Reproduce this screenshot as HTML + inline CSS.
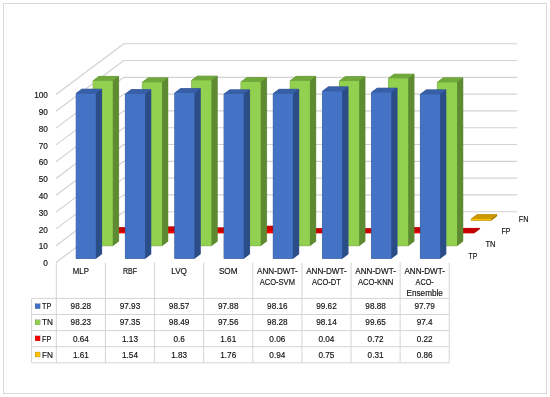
<!DOCTYPE html>
<html><head><meta charset="utf-8"><title>Chart</title>
<style>html,body{margin:0;padding:0;background:#fff;overflow:hidden}svg{display:block}</style></head>
<body>
<svg width="550" height="397" viewBox="0 0 550 397">
<rect x="0" y="0" width="550" height="397" fill="#fff"/>
<rect x="3.5" y="3.5" width="543" height="390" fill="none" stroke="#D9D9D9" stroke-width="1"/>
<polyline points="56.00,94.50 123.80,43.70 517.16,43.70" fill="none" stroke="#D2D2D2" stroke-width="1.15" stroke-linejoin="round"/>
<polyline points="56.00,111.30 123.80,60.50 517.16,60.50" fill="none" stroke="#D2D2D2" stroke-width="1.15" stroke-linejoin="round"/>
<polyline points="56.00,128.10 123.80,77.30 517.16,77.30" fill="none" stroke="#D2D2D2" stroke-width="1.15" stroke-linejoin="round"/>
<polyline points="56.00,144.90 123.80,94.10 517.16,94.10" fill="none" stroke="#D2D2D2" stroke-width="1.15" stroke-linejoin="round"/>
<polyline points="56.00,161.70 123.80,110.90 517.16,110.90" fill="none" stroke="#D2D2D2" stroke-width="1.15" stroke-linejoin="round"/>
<polyline points="56.00,178.50 123.80,127.70 517.16,127.70" fill="none" stroke="#D2D2D2" stroke-width="1.15" stroke-linejoin="round"/>
<polyline points="56.00,195.30 123.80,144.50 517.16,144.50" fill="none" stroke="#D2D2D2" stroke-width="1.15" stroke-linejoin="round"/>
<polyline points="56.00,212.10 123.80,161.30 517.16,161.30" fill="none" stroke="#D2D2D2" stroke-width="1.15" stroke-linejoin="round"/>
<polyline points="56.00,228.90 123.80,178.10 517.16,178.10" fill="none" stroke="#D2D2D2" stroke-width="1.15" stroke-linejoin="round"/>
<polyline points="56.00,245.70 123.80,194.90 517.16,194.90" fill="none" stroke="#D2D2D2" stroke-width="1.15" stroke-linejoin="round"/>
<polyline points="56.00,262.50 123.80,211.70 517.16,211.70" fill="none" stroke="#D2D2D2" stroke-width="1.15" stroke-linejoin="round"/>
<polygon points="126.89,220.39 146.69,220.39 152.59,215.97 152.59,213.26 132.79,213.26 126.89,217.68" fill="#A67C00" stroke="#A67C00" stroke-width="0.5" stroke-linejoin="round"/>
<polygon points="146.69,220.39 152.59,215.97 152.59,213.26 146.69,217.68" fill="#A67C00"/>
<polygon points="126.89,217.68 146.69,217.68 152.59,213.26 132.79,213.26" fill="#CC9A00"/>
<polygon points="126.89,220.39 146.69,220.39 146.69,217.68 126.89,217.68" fill="#FFC000"/>
<polygon points="176.16,220.39 195.96,220.39 201.86,215.97 201.86,213.38 182.06,213.38 176.16,217.80" fill="#A67C00" stroke="#A67C00" stroke-width="0.5" stroke-linejoin="round"/>
<polygon points="195.96,220.39 201.86,215.97 201.86,213.38 195.96,217.80" fill="#A67C00"/>
<polygon points="176.16,217.80 195.96,217.80 201.86,213.38 182.06,213.38" fill="#CC9A00"/>
<polygon points="176.16,220.39 195.96,220.39 195.96,217.80 176.16,217.80" fill="#FFC000"/>
<polygon points="225.53,220.39 245.33,220.39 251.23,215.97 251.23,212.89 231.43,212.89 225.53,217.31" fill="#A67C00" stroke="#A67C00" stroke-width="0.5" stroke-linejoin="round"/>
<polygon points="245.33,220.39 251.23,215.97 251.23,212.89 245.33,217.31" fill="#A67C00"/>
<polygon points="225.53,217.31 245.33,217.31 251.23,212.89 231.43,212.89" fill="#CC9A00"/>
<polygon points="225.53,220.39 245.33,220.39 245.33,217.31 225.53,217.31" fill="#FFC000"/>
<polygon points="274.80,220.39 294.60,220.39 300.50,215.97 300.50,213.01 280.70,213.01 274.80,217.43" fill="#A67C00" stroke="#A67C00" stroke-width="0.5" stroke-linejoin="round"/>
<polygon points="294.60,220.39 300.50,215.97 300.50,213.01 294.60,217.43" fill="#A67C00"/>
<polygon points="274.80,217.43 294.60,217.43 300.50,213.01 280.70,213.01" fill="#CC9A00"/>
<polygon points="274.80,220.39 294.60,220.39 294.60,217.43 274.80,217.43" fill="#FFC000"/>
<polygon points="324.02,220.39 343.82,220.39 349.72,215.97 349.72,214.39 329.92,214.39 324.02,218.81" fill="#A67C00" stroke="#A67C00" stroke-width="0.5" stroke-linejoin="round"/>
<polygon points="343.82,220.39 349.72,215.97 349.72,214.39 343.82,218.81" fill="#A67C00"/>
<polygon points="324.02,218.81 343.82,218.81 349.72,214.39 329.92,214.39" fill="#CC9A00"/>
<polygon points="324.02,220.39 343.82,220.39 343.82,218.81 324.02,218.81" fill="#FFC000"/>
<polygon points="373.29,220.39 393.09,220.39 398.99,215.97 398.99,214.71 379.19,214.71 373.29,219.13" fill="#A67C00" stroke="#A67C00" stroke-width="0.5" stroke-linejoin="round"/>
<polygon points="393.09,220.39 398.99,215.97 398.99,214.71 393.09,219.13" fill="#A67C00"/>
<polygon points="373.29,219.13 393.09,219.13 398.99,214.71 379.19,214.71" fill="#CC9A00"/>
<polygon points="373.29,220.39 393.09,220.39 393.09,219.13 373.29,219.13" fill="#FFC000"/>
<polygon points="422.31,220.39 442.11,220.39 448.01,215.97 448.01,215.45 428.21,215.45 422.31,219.87" fill="#A67C00" stroke="#A67C00" stroke-width="0.5" stroke-linejoin="round"/>
<polygon points="442.11,220.39 448.01,215.97 448.01,215.45 442.11,219.87" fill="#A67C00"/>
<polygon points="422.31,219.87 442.11,219.87 448.01,215.45 428.21,215.45" fill="#CC9A00"/>
<polygon points="422.31,220.39 442.11,220.39 442.11,219.87 422.31,219.87" fill="#FFC000"/>
<polygon points="471.18,220.39 490.98,220.39 496.88,215.97 496.88,214.52 477.08,214.52 471.18,218.94" fill="#A67C00" stroke="#A67C00" stroke-width="0.5" stroke-linejoin="round"/>
<polygon points="490.98,220.39 496.88,215.97 496.88,214.52 490.98,218.94" fill="#A67C00"/>
<polygon points="471.18,218.94 490.98,218.94 496.88,214.52 477.08,214.52" fill="#CC9A00"/>
<polygon points="471.18,220.39 490.98,220.39 490.98,218.94 471.18,218.94" fill="#FFC000"/>
<polygon points="109.94,233.09 129.74,233.09 135.64,228.67 135.64,227.59 115.84,227.59 109.94,232.01" fill="#A00000" stroke="#A00000" stroke-width="0.5" stroke-linejoin="round"/>
<polygon points="129.74,233.09 135.64,228.67 135.64,227.59 129.74,232.01" fill="#A00000"/>
<polygon points="109.94,232.01 129.74,232.01 135.64,227.59 115.84,227.59" fill="#C80000"/>
<polygon points="109.94,233.09 129.74,233.09 129.74,232.01 109.94,232.01" fill="#FF0000"/>
<polygon points="159.21,233.09 179.01,233.09 184.91,228.67 184.91,226.77 165.11,226.77 159.21,231.19" fill="#A00000" stroke="#A00000" stroke-width="0.5" stroke-linejoin="round"/>
<polygon points="179.01,233.09 184.91,228.67 184.91,226.77 179.01,231.19" fill="#A00000"/>
<polygon points="159.21,231.19 179.01,231.19 184.91,226.77 165.11,226.77" fill="#C80000"/>
<polygon points="159.21,233.09 179.01,233.09 179.01,231.19 159.21,231.19" fill="#FF0000"/>
<polygon points="208.58,233.09 228.38,233.09 234.28,228.67 234.28,227.66 214.48,227.66 208.58,232.08" fill="#A00000" stroke="#A00000" stroke-width="0.5" stroke-linejoin="round"/>
<polygon points="228.38,233.09 234.28,228.67 234.28,227.66 228.38,232.08" fill="#A00000"/>
<polygon points="208.58,232.08 228.38,232.08 234.28,227.66 214.48,227.66" fill="#C80000"/>
<polygon points="208.58,233.09 228.38,233.09 228.38,232.08 208.58,232.08" fill="#FF0000"/>
<polygon points="257.85,233.09 277.65,233.09 283.55,228.67 283.55,225.96 263.75,225.96 257.85,230.38" fill="#A00000" stroke="#A00000" stroke-width="0.5" stroke-linejoin="round"/>
<polygon points="277.65,233.09 283.55,228.67 283.55,225.96 277.65,230.38" fill="#A00000"/>
<polygon points="257.85,230.38 277.65,230.38 283.55,225.96 263.75,225.96" fill="#C80000"/>
<polygon points="257.85,233.09 277.65,233.09 277.65,230.38 257.85,230.38" fill="#FF0000"/>
<polygon points="307.07,233.09 326.87,233.09 332.77,228.67 332.77,228.57 312.97,228.57 307.07,232.99" fill="#A00000" stroke="#A00000" stroke-width="0.5" stroke-linejoin="round"/>
<polygon points="326.87,233.09 332.77,228.67 332.77,228.57 326.87,232.99" fill="#A00000"/>
<polygon points="307.07,232.99 326.87,232.99 332.77,228.57 312.97,228.57" fill="#C80000"/>
<polygon points="307.07,233.09 326.87,233.09 326.87,232.99 307.07,232.99" fill="#FF0000"/>
<polygon points="356.34,233.09 376.14,233.09 382.04,228.67 382.04,228.60 362.24,228.60 356.34,233.02" fill="#A00000" stroke="#A00000" stroke-width="0.5" stroke-linejoin="round"/>
<polygon points="376.14,233.09 382.04,228.67 382.04,228.60 376.14,233.02" fill="#A00000"/>
<polygon points="356.34,233.02 376.14,233.02 382.04,228.60 362.24,228.60" fill="#C80000"/>
<polygon points="356.34,233.09 376.14,233.09 376.14,233.02 356.34,233.02" fill="#FF0000"/>
<polygon points="405.36,233.09 425.16,233.09 431.06,228.67 431.06,227.46 411.26,227.46 405.36,231.88" fill="#A00000" stroke="#A00000" stroke-width="0.5" stroke-linejoin="round"/>
<polygon points="425.16,233.09 431.06,228.67 431.06,227.46 425.16,231.88" fill="#A00000"/>
<polygon points="405.36,231.88 425.16,231.88 431.06,227.46 411.26,227.46" fill="#C80000"/>
<polygon points="405.36,233.09 425.16,233.09 425.16,231.88 405.36,231.88" fill="#FF0000"/>
<polygon points="454.23,233.09 474.03,233.09 479.93,228.67 479.93,228.30 460.13,228.30 454.23,232.72" fill="#A00000" stroke="#A00000" stroke-width="0.5" stroke-linejoin="round"/>
<polygon points="474.03,233.09 479.93,228.67 479.93,228.30 474.03,232.72" fill="#A00000"/>
<polygon points="454.23,232.72 474.03,232.72 479.93,228.30 460.13,228.30" fill="#C80000"/>
<polygon points="454.23,233.09 474.03,233.09 474.03,232.72 454.23,232.72" fill="#FF0000"/>
<polygon points="92.99,245.79 112.79,245.79 118.69,241.37 118.69,76.34 98.89,76.34 92.99,80.76" fill="#5E8A31" stroke="#5E8A31" stroke-width="0.5" stroke-linejoin="round"/>
<polygon points="112.79,245.79 118.69,241.37 118.69,76.34 112.79,80.76" fill="#5E8A31"/>
<polygon points="92.99,80.76 112.79,80.76 118.69,76.34 98.89,76.34" fill="#70A83B"/>
<polygon points="92.99,245.79 112.79,245.79 112.79,80.76 92.99,80.76" fill="#92D050"/>
<polygon points="142.26,245.79 162.06,245.79 167.96,241.37 167.96,77.82 148.16,77.82 142.26,82.24" fill="#5E8A31" stroke="#5E8A31" stroke-width="0.5" stroke-linejoin="round"/>
<polygon points="162.06,245.79 167.96,241.37 167.96,77.82 162.06,82.24" fill="#5E8A31"/>
<polygon points="142.26,82.24 162.06,82.24 167.96,77.82 148.16,77.82" fill="#70A83B"/>
<polygon points="142.26,245.79 162.06,245.79 162.06,82.24 142.26,82.24" fill="#92D050"/>
<polygon points="191.63,245.79 211.43,245.79 217.33,241.37 217.33,75.90 197.53,75.90 191.63,80.32" fill="#5E8A31" stroke="#5E8A31" stroke-width="0.5" stroke-linejoin="round"/>
<polygon points="211.43,245.79 217.33,241.37 217.33,75.90 211.43,80.32" fill="#5E8A31"/>
<polygon points="191.63,80.32 211.43,80.32 217.33,75.90 197.53,75.90" fill="#70A83B"/>
<polygon points="191.63,245.79 211.43,245.79 211.43,80.32 191.63,80.32" fill="#92D050"/>
<polygon points="240.90,245.79 260.70,245.79 266.60,241.37 266.60,77.47 246.80,77.47 240.90,81.89" fill="#5E8A31" stroke="#5E8A31" stroke-width="0.5" stroke-linejoin="round"/>
<polygon points="260.70,245.79 266.60,241.37 266.60,77.47 260.70,81.89" fill="#5E8A31"/>
<polygon points="240.90,81.89 260.70,81.89 266.60,77.47 246.80,77.47" fill="#70A83B"/>
<polygon points="240.90,245.79 260.70,245.79 260.70,81.89 240.90,81.89" fill="#92D050"/>
<polygon points="290.12,245.79 309.92,245.79 315.82,241.37 315.82,76.26 296.02,76.26 290.12,80.68" fill="#5E8A31" stroke="#5E8A31" stroke-width="0.5" stroke-linejoin="round"/>
<polygon points="309.92,245.79 315.82,241.37 315.82,76.26 309.92,80.68" fill="#5E8A31"/>
<polygon points="290.12,80.68 309.92,80.68 315.82,76.26 296.02,76.26" fill="#70A83B"/>
<polygon points="290.12,245.79 309.92,245.79 309.92,80.68 290.12,80.68" fill="#92D050"/>
<polygon points="339.39,245.79 359.19,245.79 365.09,241.37 365.09,76.49 345.29,76.49 339.39,80.91" fill="#5E8A31" stroke="#5E8A31" stroke-width="0.5" stroke-linejoin="round"/>
<polygon points="359.19,245.79 365.09,241.37 365.09,76.49 359.19,80.91" fill="#5E8A31"/>
<polygon points="339.39,80.91 359.19,80.91 365.09,76.49 345.29,76.49" fill="#70A83B"/>
<polygon points="339.39,245.79 359.19,245.79 359.19,80.91 339.39,80.91" fill="#92D050"/>
<polygon points="388.41,245.79 408.21,245.79 414.11,241.37 414.11,73.96 394.31,73.96 388.41,78.37" fill="#5E8A31" stroke="#5E8A31" stroke-width="0.5" stroke-linejoin="round"/>
<polygon points="408.21,245.79 414.11,241.37 414.11,73.96 408.21,78.37" fill="#5E8A31"/>
<polygon points="388.41,78.37 408.21,78.37 414.11,73.96 394.31,73.96" fill="#70A83B"/>
<polygon points="388.41,245.79 408.21,245.79 408.21,78.37 388.41,78.37" fill="#92D050"/>
<polygon points="437.28,245.79 457.08,245.79 462.98,241.37 462.98,77.74 443.18,77.74 437.28,82.15" fill="#5E8A31" stroke="#5E8A31" stroke-width="0.5" stroke-linejoin="round"/>
<polygon points="457.08,245.79 462.98,241.37 462.98,77.74 457.08,82.15" fill="#5E8A31"/>
<polygon points="437.28,82.15 457.08,82.15 462.98,77.74 443.18,77.74" fill="#70A83B"/>
<polygon points="437.28,245.79 457.08,245.79 457.08,82.15 437.28,82.15" fill="#92D050"/>
<polygon points="76.04,258.49 95.84,258.49 101.74,254.07 101.74,88.96 81.94,88.96 76.04,93.38" fill="#2B4D87" stroke="#2B4D87" stroke-width="0.5" stroke-linejoin="round"/>
<polygon points="95.84,258.49 101.74,254.07 101.74,88.96 95.84,93.38" fill="#2B4D87"/>
<polygon points="76.04,93.38 95.84,93.38 101.74,88.96 81.94,88.96" fill="#365FA8"/>
<polygon points="76.04,258.49 95.84,258.49 95.84,93.38 76.04,93.38" fill="#4472C4"/>
<polygon points="125.31,258.49 145.11,258.49 151.01,254.07 151.01,89.54 131.21,89.54 125.31,93.96" fill="#2B4D87" stroke="#2B4D87" stroke-width="0.5" stroke-linejoin="round"/>
<polygon points="145.11,258.49 151.01,254.07 151.01,89.54 145.11,93.96" fill="#2B4D87"/>
<polygon points="125.31,93.96 145.11,93.96 151.01,89.54 131.21,89.54" fill="#365FA8"/>
<polygon points="125.31,258.49 145.11,258.49 145.11,93.96 125.31,93.96" fill="#4472C4"/>
<polygon points="174.68,258.49 194.48,258.49 200.38,254.07 200.38,88.47 180.58,88.47 174.68,92.89" fill="#2B4D87" stroke="#2B4D87" stroke-width="0.5" stroke-linejoin="round"/>
<polygon points="194.48,258.49 200.38,254.07 200.38,88.47 194.48,92.89" fill="#2B4D87"/>
<polygon points="174.68,92.89 194.48,92.89 200.38,88.47 180.58,88.47" fill="#365FA8"/>
<polygon points="174.68,258.49 194.48,258.49 194.48,92.89 174.68,92.89" fill="#4472C4"/>
<polygon points="223.95,258.49 243.75,258.49 249.65,254.07 249.65,89.63 229.85,89.63 223.95,94.05" fill="#2B4D87" stroke="#2B4D87" stroke-width="0.5" stroke-linejoin="round"/>
<polygon points="243.75,258.49 249.65,254.07 249.65,89.63 243.75,94.05" fill="#2B4D87"/>
<polygon points="223.95,94.05 243.75,94.05 249.65,89.63 229.85,89.63" fill="#365FA8"/>
<polygon points="223.95,258.49 243.75,258.49 243.75,94.05 223.95,94.05" fill="#4472C4"/>
<polygon points="273.17,258.49 292.97,258.49 298.87,254.07 298.87,89.16 279.07,89.16 273.17,93.58" fill="#2B4D87" stroke="#2B4D87" stroke-width="0.5" stroke-linejoin="round"/>
<polygon points="292.97,258.49 298.87,254.07 298.87,89.16 292.97,93.58" fill="#2B4D87"/>
<polygon points="273.17,93.58 292.97,93.58 298.87,89.16 279.07,89.16" fill="#365FA8"/>
<polygon points="273.17,258.49 292.97,258.49 292.97,93.58 273.17,93.58" fill="#4472C4"/>
<polygon points="322.44,258.49 342.24,258.49 348.14,254.07 348.14,86.71 328.34,86.71 322.44,91.13" fill="#2B4D87" stroke="#2B4D87" stroke-width="0.5" stroke-linejoin="round"/>
<polygon points="342.24,258.49 348.14,254.07 348.14,86.71 342.24,91.13" fill="#2B4D87"/>
<polygon points="322.44,91.13 342.24,91.13 348.14,86.71 328.34,86.71" fill="#365FA8"/>
<polygon points="322.44,258.49 342.24,258.49 342.24,91.13 322.44,91.13" fill="#4472C4"/>
<polygon points="371.46,258.49 391.26,258.49 397.16,254.07 397.16,87.95 377.36,87.95 371.46,92.37" fill="#2B4D87" stroke="#2B4D87" stroke-width="0.5" stroke-linejoin="round"/>
<polygon points="391.26,258.49 397.16,254.07 397.16,87.95 391.26,92.37" fill="#2B4D87"/>
<polygon points="371.46,92.37 391.26,92.37 397.16,87.95 377.36,87.95" fill="#365FA8"/>
<polygon points="371.46,258.49 391.26,258.49 391.26,92.37 371.46,92.37" fill="#4472C4"/>
<polygon points="420.33,258.49 440.13,258.49 446.03,254.07 446.03,89.78 426.23,89.78 420.33,94.20" fill="#2B4D87" stroke="#2B4D87" stroke-width="0.5" stroke-linejoin="round"/>
<polygon points="440.13,258.49 446.03,254.07 446.03,89.78 440.13,94.20" fill="#2B4D87"/>
<polygon points="420.33,94.20 440.13,94.20 446.03,89.78 426.23,89.78" fill="#365FA8"/>
<polygon points="420.33,258.49 440.13,258.49 440.13,94.20 420.33,94.20" fill="#4472C4"/>
<g font-family="'Liberation Sans', sans-serif" font-size="8.2" fill="#111" stroke="#111" stroke-width="0.15">
<text x="47.9" y="98.20" text-anchor="end">100</text>
<text x="47.9" y="115.00" text-anchor="end">90</text>
<text x="47.9" y="131.80" text-anchor="end">80</text>
<text x="47.9" y="148.60" text-anchor="end">70</text>
<text x="47.9" y="165.40" text-anchor="end">60</text>
<text x="47.9" y="182.20" text-anchor="end">50</text>
<text x="47.9" y="199.00" text-anchor="end">40</text>
<text x="47.9" y="215.80" text-anchor="end">30</text>
<text x="47.9" y="232.60" text-anchor="end">20</text>
<text x="47.9" y="249.40" text-anchor="end">10</text>
<text x="47.9" y="266.20" text-anchor="end">0</text>
<text x="473.00" y="259.00" text-anchor="middle" textLength="8.9" lengthAdjust="spacingAndGlyphs">TP</text>
<text x="490.40" y="247.00" text-anchor="middle" textLength="10.0" lengthAdjust="spacingAndGlyphs">TN</text>
<text x="506.00" y="234.00" text-anchor="middle" textLength="8.9" lengthAdjust="spacingAndGlyphs">FP</text>
<text x="523.60" y="222.00" text-anchor="middle" textLength="9.8" lengthAdjust="spacingAndGlyphs">FN</text>
<g stroke="#D4D4D4" stroke-width="1" fill="none">
<line x1="31.60" y1="298.40" x2="449.26" y2="298.40"/>
<line x1="31.60" y1="314.50" x2="449.26" y2="314.50"/>
<line x1="31.60" y1="330.60" x2="449.26" y2="330.60"/>
<line x1="31.60" y1="346.70" x2="449.26" y2="346.70"/>
<line x1="31.60" y1="362.80" x2="449.26" y2="362.80"/>
<line x1="31.60" y1="298.40" x2="31.60" y2="362.80"/>
<line x1="56.30" y1="262.50" x2="56.30" y2="362.80"/>
<line x1="105.42" y1="262.50" x2="105.42" y2="362.80"/>
<line x1="154.54" y1="262.50" x2="154.54" y2="362.80"/>
<line x1="203.66" y1="262.50" x2="203.66" y2="362.80"/>
<line x1="252.78" y1="262.50" x2="252.78" y2="362.80"/>
<line x1="301.90" y1="262.50" x2="301.90" y2="362.80"/>
<line x1="351.02" y1="262.50" x2="351.02" y2="362.80"/>
<line x1="400.14" y1="262.50" x2="400.14" y2="362.80"/>
<line x1="449.26" y1="262.50" x2="449.26" y2="362.80"/>
</g>
<text x="80.86" y="274.00" text-anchor="middle" textLength="16.0" lengthAdjust="spacingAndGlyphs">MLP</text>
<text x="129.98" y="274.00" text-anchor="middle" textLength="14.2" lengthAdjust="spacingAndGlyphs">RBF</text>
<text x="179.10" y="274.00" text-anchor="middle">LVQ</text>
<text x="228.22" y="274.00" text-anchor="middle" textLength="18.6" lengthAdjust="spacingAndGlyphs">SOM</text>
<text x="277.34" y="274.00" text-anchor="middle" textLength="40.6" lengthAdjust="spacingAndGlyphs">ANN-DWT-</text>
<text x="277.34" y="285.00" text-anchor="middle" textLength="35.2" lengthAdjust="spacingAndGlyphs">ACO-SVM</text>
<text x="326.46" y="274.00" text-anchor="middle" textLength="40.6" lengthAdjust="spacingAndGlyphs">ANN-DWT-</text>
<text x="326.46" y="285.00" text-anchor="middle" textLength="28.8" lengthAdjust="spacingAndGlyphs">ACO-DT</text>
<text x="375.58" y="274.00" text-anchor="middle" textLength="40.6" lengthAdjust="spacingAndGlyphs">ANN-DWT-</text>
<text x="375.58" y="285.00" text-anchor="middle" textLength="35.2" lengthAdjust="spacingAndGlyphs">ACO-KNN</text>
<text x="424.70" y="274.00" text-anchor="middle" textLength="40.6" lengthAdjust="spacingAndGlyphs">ANN-DWT-</text>
<text x="424.70" y="285.00" text-anchor="middle" textLength="18.2" lengthAdjust="spacingAndGlyphs">ACO-</text>
<text x="424.70" y="296.00" text-anchor="middle">Ensemble</text>
<rect x="35.1" y="303.70" width="5" height="5" fill="#3F6FC6"/>
<text x="42" y="309.00" textLength="9.2" lengthAdjust="spacingAndGlyphs">TP</text>
<text x="80.86" y="309.00" text-anchor="middle">98.28</text>
<text x="129.98" y="309.00" text-anchor="middle">97.93</text>
<text x="179.10" y="309.00" text-anchor="middle">98.57</text>
<text x="228.22" y="309.00" text-anchor="middle">97.88</text>
<text x="277.34" y="309.00" text-anchor="middle">98.16</text>
<text x="326.46" y="309.00" text-anchor="middle">99.62</text>
<text x="375.58" y="309.00" text-anchor="middle">98.88</text>
<text x="424.70" y="309.00" text-anchor="middle">97.79</text>
<rect x="35.1" y="319.80" width="5" height="5" fill="#92D050"/>
<text x="42" y="325.00">TN</text>
<text x="80.86" y="325.00" text-anchor="middle">98.23</text>
<text x="129.98" y="325.00" text-anchor="middle">97.35</text>
<text x="179.10" y="325.00" text-anchor="middle">98.49</text>
<text x="228.22" y="325.00" text-anchor="middle">97.56</text>
<text x="277.34" y="325.00" text-anchor="middle">98.28</text>
<text x="326.46" y="325.00" text-anchor="middle">98.14</text>
<text x="375.58" y="325.00" text-anchor="middle">99.65</text>
<text x="424.70" y="325.00" text-anchor="middle">97.4</text>
<rect x="35.1" y="335.90" width="5" height="5" fill="#FF0000"/>
<text x="42" y="342.00" textLength="9.2" lengthAdjust="spacingAndGlyphs">FP</text>
<text x="80.86" y="342.00" text-anchor="middle">0.64</text>
<text x="129.98" y="342.00" text-anchor="middle">1.13</text>
<text x="179.10" y="342.00" text-anchor="middle">0.6</text>
<text x="228.22" y="342.00" text-anchor="middle">1.61</text>
<text x="277.34" y="342.00" text-anchor="middle">0.06</text>
<text x="326.46" y="342.00" text-anchor="middle">0.04</text>
<text x="375.58" y="342.00" text-anchor="middle">0.72</text>
<text x="424.70" y="342.00" text-anchor="middle">0.22</text>
<rect x="35.1" y="352.00" width="5" height="5" fill="#FFC000"/>
<text x="42" y="358.00">FN</text>
<text x="80.86" y="358.00" text-anchor="middle">1.61</text>
<text x="129.98" y="358.00" text-anchor="middle">1.54</text>
<text x="179.10" y="358.00" text-anchor="middle">1.83</text>
<text x="228.22" y="358.00" text-anchor="middle">1.76</text>
<text x="277.34" y="358.00" text-anchor="middle">0.94</text>
<text x="326.46" y="358.00" text-anchor="middle">0.75</text>
<text x="375.58" y="358.00" text-anchor="middle">0.31</text>
<text x="424.70" y="358.00" text-anchor="middle">0.86</text>
</g>
</svg>
</body></html>
